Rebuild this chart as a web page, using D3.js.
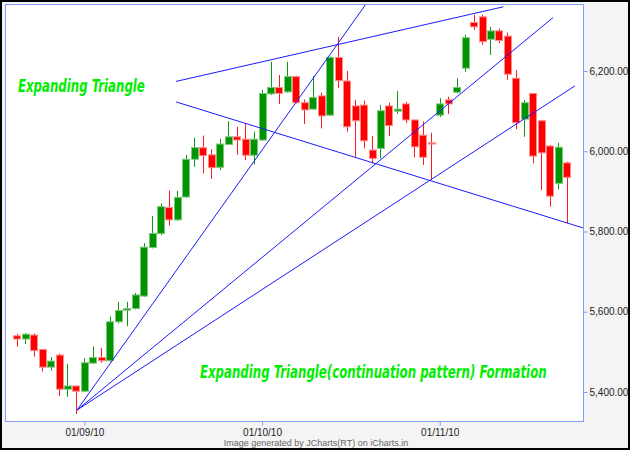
<!DOCTYPE html>
<html><head><meta charset="utf-8">
<script src="https://cdn.jsdelivr.net/npm/d3@7"></script>
<style>html,body{margin:0;padding:0;background:#fff}</style>
</head><body>
<svg id="c" width="630" height="450"></svg>
<script>
const opens=[5540,5532,5542,5506,5462,5492,5407,5415,5402,5472,
5486,5478,5575,5604,5608,5639,5760,5795,5860,5829,
5886,5980,6009,5991,5960,6017,6036,6030,5990,6028,
6143,6159,6148,6186,6121,6105,6138,6090,6234,6175,
6113,6115,6003,6007,6113,6100,6118,6078,6040,6021,
6090,6128,6147,6207,6321,6335,6279,6300,6287,6182,
6080,6144,6076,6013,5920,5971];
const closes=[5532,5544,5503,5462,5477,5407,5415,5402,5473,5486,
5478,5575,5603,5608,5642,5761,5795,5862,5829,5885,
5980,6009,5989,5959,6018,6036,6028,5990,6030,6144,
6159,6144,6186,6121,6103,6134,6088,6234,6176,6061,
6076,6026,5982,6101,6064,6105,6078,6011,5985,6018,
6118,6118,6159,6283,6310,6273,6300,6276,6192,6071,
6121,5988,5996,5888,6010,5935];
const highs=[5545,5547,5546,5507,5487,5496,5470,5416,5484,5513,
5510,5588,5625,5625,5647,5771,5839,5870,5902,5901,
5991,6034,6039,6005,6031,6075,6061,6070,6049,6153,
6223,6190,6223,6188,6129,6188,6146,6236,6285,6200,
6128,6126,6038,6115,6121,6150,6123,6079,6074,6046,
6132,6136,6182,6290,6340,6340,6310,6306,6296,6202,
6128,6145,6077,6016,6021,5974];
const lows=[5513,5520,5488,5451,5453,5390,5388,5345,5400,5470,
5473,5476,5571,5564,5606,5637,5758,5791,5815,5827,
5884,5961,5945,5931,5953,6016,5991,5978,5967,6026,
6140,6118,6146,6119,6068,6103,6057,6088,6157,6049,
5986,6007,5970,5982,6038,6093,6071,5985,5966,5930,
6085,6093,6144,6198,6302,6265,6240,6269,6178,6055,
6036,5970,5903,5862,5905,5820];
const xTickIdx=[8,29,50];
const xTickLabels=["01/09/10","01/10/10","01/11/10"];
const yTicks=[5400,5600,5800,6000,6200];
// trend lines: [startIndex, startPrice, endIndex, endPrice]
const trendLines=[[18.83,6174,57.52,6360],[18.83,6123,66.94,5809],
[7.13,5355,41.29,6367],[7.13,5355,63.39,6333],[7.13,5355,65.99,6163]];
const titleText="Expanding Triangle";
const captionText="Expanding Triangle(continuation pattern) Formation";
const creditText="Image generated by  JCharts(RT) on iCharts.in";

const svg=d3.select("#c");
svg.append("rect").attr("x",1).attr("y",1).attr("width",628).attr("height",448)
  .attr("fill","#f4f4f4").attr("stroke","#000").attr("stroke-width",2);
const P={l:5,t:4,r:583,b:421};
svg.append("rect").attr("x",P.l+0.5).attr("y",P.t+0.5).attr("width",P.r-P.l).attr("height",P.b-P.t)
  .attr("fill","#fff").attr("stroke","#7f9cff");
svg.append("clipPath").attr("id","clip").append("rect")
  .attr("x",P.l+1).attr("y",P.t+1).attr("width",P.r-P.l-1).attr("height",P.b-P.t-1);

const x=d3.scaleLinear().domain([0,65]).range([16.7,566.6]);
const y=d3.scaleLinear().domain([5400,6200]).range([392,71]);

const g=svg.append("g").attr("clip-path","url(#clip)");
const idx=d3.range(opens.length);
const up=i=>closes[i]>=opens[i];

// wicks
g.selectAll("line.w").data(idx).join("line").attr("class","w")
  .attr("x1",i=>Math.round(x(i))+0.5).attr("x2",i=>Math.round(x(i))+0.5)
  .attr("y1",i=>y(highs[i])).attr("y2",i=>y(lows[i]))
  .attr("stroke",i=>up(i)?"#0a9a0a":"#ff1a1a").attr("stroke-width",1);
// bodies
g.selectAll("rect.b").data(idx).join("rect").attr("class","b")
  .attr("x",i=>Math.round(x(i)-3.5)+0.5).attr("width",7)
  .attr("y",i=>y(Math.max(opens[i],closes[i])))
  .attr("height",i=>Math.max(1,Math.abs(y(opens[i])-y(closes[i]))))
  .attr("fill",i=>up(i)?"#009400":"#ff0000")
  .attr("stroke",i=>up(i)?"#7cc87c":"#ff8c8c").attr("stroke-width",1);

// trend lines
g.selectAll("line.t").data(trendLines).join("line").attr("class","t")
  .attr("x1",d=>x(d[0])).attr("y1",d=>y(d[1])).attr("x2",d=>x(d[2])).attr("y2",d=>y(d[3]))
  .attr("stroke","#1a1aff").attr("stroke-width",1);

// annotations (condensed by horizontal scaling to match the narrow face)
const ann=[{t:titleText,x:18,y:92,len:127},{t:captionText,x:200,y:378,len:347}];
svg.selectAll("text.ann").data(ann).join("text").attr("class","ann")
  .text(d=>d.t)
  .attr("font-family","'Liberation Sans Narrow','DejaVu Sans Condensed',sans-serif")
  .attr("font-style","italic").attr("font-weight","bold").attr("font-size",18)
  .attr("fill","#00ee00")
  .each(function(d){
    const w=this.getComputedTextLength();
    const s=w>0?d.len/w:1;
    d3.select(this).attr("transform",`translate(${d.x},${d.y}) scale(${s},1)`);
  });

// y axis
const yAxis=d3.axisRight(y).tickValues(yTicks).tickFormat(d3.format(",.2f")).tickSize(4).tickPadding(2);
const ya=svg.append("g").attr("transform",`translate(${P.r+0.5},0)`).call(yAxis);
ya.select(".domain").remove();
ya.selectAll(".tick line").attr("stroke","#7f9cff");
ya.selectAll(".tick text").attr("font-family","'Liberation Sans',Arial,sans-serif").attr("font-size",10).attr("fill","#222");

// x axis
const xAxis=d3.axisBottom(x).tickValues(xTickIdx).tickFormat((d,i)=>xTickLabels[i]).tickSize(4).tickPadding(3);
const xa=svg.append("g").attr("transform",`translate(0,${P.b+0.5})`).call(xAxis);
xa.select(".domain").remove();
xa.selectAll(".tick line").attr("stroke","#7f9cff");
xa.selectAll(".tick text").attr("font-family","'Liberation Sans',Arial,sans-serif").attr("font-size",10).attr("fill","#222");

svg.append("text").attr("x",316).attr("y",446).attr("text-anchor","middle")
  .attr("font-family","'Liberation Sans',Arial,sans-serif").attr("font-size",9).attr("fill","#666")
  .text(creditText);
</script>
</body></html>
